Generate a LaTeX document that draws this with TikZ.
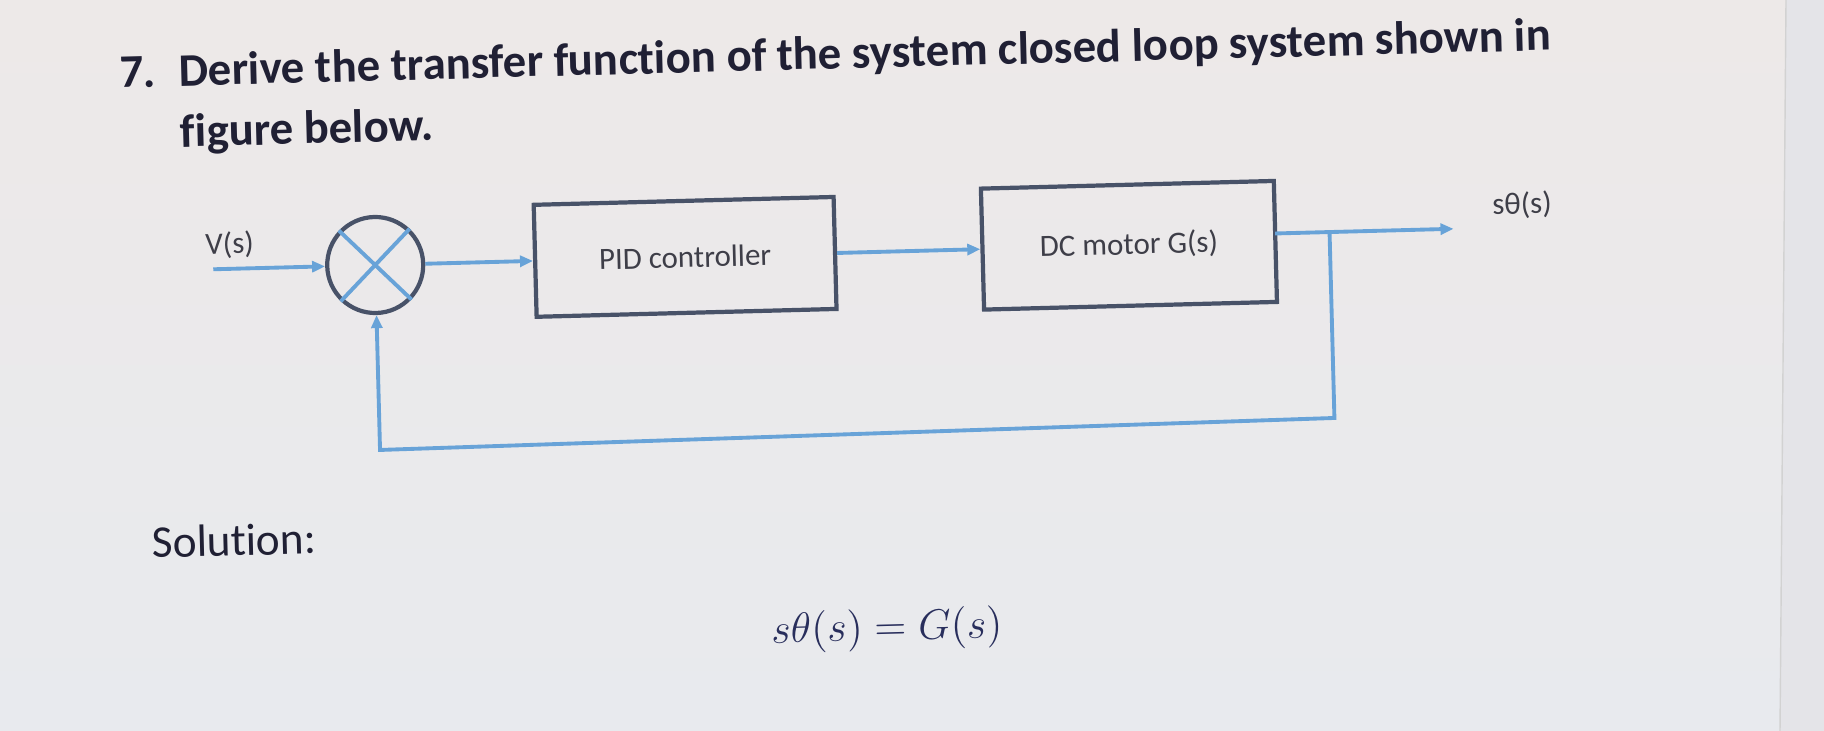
\documentclass[tikz,border=0pt]{standalone}
\usepackage{fontspec}
\setmainfont{Carlito}[Ligatures=NoCommon]
\usetikzlibrary{arrows.meta,calc}
\definecolor{bgtop}{RGB}{237,233,232}
\definecolor{bgbot}{RGB}{232,234,238}
\definecolor{bezel}{RGB}{228,228,232}
\definecolor{sigblue}{RGB}{104,163,216}
\definecolor{boxline}{RGB}{72,82,104}
\definecolor{inkdark}{RGB}{32,32,52}
\definecolor{labelgray}{RGB}{62,62,72}
\definecolor{eqblue}{RGB}{40,46,92}
\tikzset{
  block/.style={draw=boxline, line width=1.2pt, minimum width=3cm, minimum height=1.12cm, text=labelgray, font=\fontsize{8.8}{10}\selectfont},
  sumnode/.style={circle, draw=boxline, line width=1.2pt, minimum size=0.96cm, inner sep=0pt},
  sig/.style={draw=sigblue, line width=1.1pt, -{Triangle[length=1.3mm,width=1.1mm]}},
  wire/.style={draw=sigblue, line width=1.1pt},
  lbl/.style={text=labelgray, font=\fontsize{8.8}{10}\selectfont},
  question/.style={anchor=base west, inner sep=0pt, text=inkdark, font=\fontsize{13.3}{16}\bfseries\selectfont}
}
\begin{document}
\begin{tikzpicture}
\useasboundingbox (0,0) rectangle (18.24,7.31);
\shade[top color=bgtop, bottom color=bgbot] (0,0) rectangle (18.24,7.31);
\fill[bezel] (17.8,0) -- (17.86,7.31) -- (18.24,7.31) -- (18.24,0) -- cycle;
\draw[gray!35, line width=0.4pt] (17.8,0) -- (17.86,7.31);
\begin{scope}[rotate around={1.5:(9.12,3.66)}, transform shape]
  \path
  (2.16,4.80) coordinate (vin)
  (12.785,4.88) coordinate (mout)
  (13.33,4.88) coordinate (branch)
  (14.57,4.88) coordinate (vout)
  (13.33,3.02) coordinate (fbr)
  (3.78,2.95) coordinate (fbl)
  ;
  \node[question] (num) at (1.27,6.64) {7.};
  \node[question] (q1) at (1.86,6.64) {Derive the transfer function of the system closed loop system shown in};
  \node[question] (q2) at (1.86,6.03) {figure below.};

  \node[sumnode] (sum) at (3.78,4.80) {};
  \draw[wire] (sum.north west) -- (sum.south east) (sum.north east) -- (sum.south west);
  \node[block] (pid) at (6.88,4.80) {PID controller};
  \node[block, minimum width=2.93cm, minimum height=1.21cm] (motor) at (11.32,4.80) {DC motor G(s)};
  \node[lbl] (vlbl) at (2.33,5.04) {V(s)};
  \node[lbl] (outlbl) at (15.26,5.10) {sθ(s)};

  \draw[sig] (vin) -- (sum);
  \draw[sig] (sum) -- (pid);
  \draw[sig] (pid) -- (motor);
  \draw[sig] (mout) -- (vout);
  \draw[sig] (branch) -- (fbr) -- (fbl) -- (sum);

  \node[anchor=base west, inner sep=0pt, text=inkdark, font=\fontsize{12.9}{15}\selectfont] (sol) at (1.47,1.93) {Solution:};
  \node[text=eqblue, font=\fontsize{13.1}{15}\selectfont] (eq) at (8.80,1.02) {$s\theta(s)=G(s)$};
\end{scope}
\end{tikzpicture}
\end{document}
